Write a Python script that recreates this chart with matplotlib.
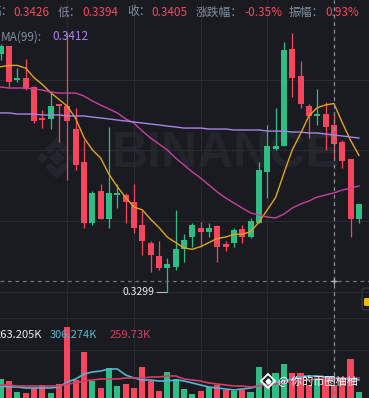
import numpy as np
import matplotlib
matplotlib.use('Agg')
import matplotlib.pyplot as plt
from matplotlib.patches import Polygon, FancyBboxPatch

plt.rcParams['font.family'] = ['Noto Sans CJK SC', 'DejaVu Sans']

# candles (price)
opens = [0.3473, 0.3479, 0.3454, 0.3456, 0.3449, 0.3426, 0.3426, 0.3437, 0.3435, 0.3418,
         0.3394, 0.3349, 0.3373, 0.3352, 0.3370, 0.3370, 0.3365, 0.3348, 0.3335, 0.3325,
         0.3316, 0.3317, 0.3330, 0.3339, 0.3346, 0.3343, 0.3347, 0.3334, 0.3335, 0.3345,
         0.3339, 0.3349, 0.3387, 0.3404, 0.3406, 0.3477, 0.3457, 0.3435, 0.3428, 0.3429,
         0.3421, 0.3409, 0.3396, 0.3352]
highs = [0.3481, 0.3479, 0.3463, 0.3470, 0.3450, 0.3432, 0.3446, 0.3437, 0.3489, 0.3434,
         0.3410, 0.3373, 0.3378, 0.3420, 0.3378, 0.3371, 0.3378, 0.3359, 0.3336, 0.3336,
         0.3324, 0.3359, 0.3341, 0.3349, 0.3350, 0.3349, 0.3348, 0.3336, 0.3346, 0.3348,
         0.3353, 0.3394, 0.3421, 0.3434, 0.3482, 0.3489, 0.3468, 0.3437, 0.3448, 0.3438,
         0.3429, 0.3410, 0.3396, 0.3363]
lows = [0.3469, 0.3449, 0.3453, 0.3447, 0.3423, 0.3419, 0.3418, 0.3409, 0.3381, 0.3388,
        0.3346, 0.3348, 0.3352, 0.3346, 0.3360, 0.3349, 0.3342, 0.3326, 0.3313, 0.3315,
        0.3299, 0.3315, 0.3321, 0.3332, 0.3332, 0.3339, 0.3321, 0.3329, 0.3332, 0.3335,
        0.3338, 0.3349, 0.3368, 0.3403, 0.3406, 0.3442, 0.3434, 0.3412, 0.3421, 0.3403,
        0.3396, 0.3390, 0.3339, 0.3349]
closes = [0.3479, 0.3453, 0.3456, 0.3448, 0.3424, 0.3425, 0.3435, 0.3435, 0.3424, 0.3392,
          0.3349, 0.3371, 0.3352, 0.3371, 0.3371, 0.3365, 0.3346, 0.3336, 0.3326, 0.3316,
          0.3319, 0.3330, 0.3337, 0.3348, 0.3343, 0.3346, 0.3332, 0.3332, 0.3344, 0.3339,
          0.3351, 0.3388, 0.3406, 0.3406, 0.3476, 0.3456, 0.3437, 0.3428, 0.3429, 0.3420,
          0.3407, 0.3395, 0.3352, 0.3363]

# moving averages as drawn
ma7 = [0.3464, 0.3465, 0.3465, 0.3463, 0.3456, 0.3451, 0.3445, 0.3440, 0.3435, 0.3426,
       0.3412, 0.3403, 0.3397, 0.3385, 0.3376, 0.3368, 0.3361, 0.3359, 0.3352, 0.3346,
       0.3339, 0.3335, 0.3331, 0.3330, 0.3332, 0.3335, 0.3338, 0.3339, 0.3341, 0.3341,
       0.3343, 0.3350, 0.3359, 0.3368, 0.3386, 0.3403, 0.3415, 0.3428, 0.3434, 0.3436,
       0.3437, 0.3423, 0.3410, 0.3399]
ma25 = [0.34491, 0.34484, 0.34484, 0.34484, 0.34477, 0.34469, 0.34455, 0.34447, 0.34447, 0.34447,
        0.34425, 0.34389, 0.34359, 0.34330, 0.34301, 0.34257, 0.34227, 0.34168, 0.34117, 0.34073,
        0.34029, 0.33970, 0.33919, 0.33868, 0.33823, 0.33772, 0.33721, 0.33677, 0.33640, 0.33603,
        0.33567, 0.33552, 0.33537, 0.33530, 0.33559, 0.33603, 0.33633, 0.33655, 0.33684, 0.33699,
        0.33714, 0.33735, 0.33750, 0.33765]
ma99 = [0.34301, 0.34301, 0.34293, 0.34293, 0.34293, 0.34286, 0.34286, 0.34286, 0.34279, 0.34279,
        0.34279, 0.34271, 0.34264, 0.34257, 0.34249, 0.34242, 0.34235, 0.34227, 0.34220, 0.34213,
        0.34205, 0.34198, 0.34190, 0.34190, 0.34190, 0.34183, 0.34183, 0.34183, 0.34176, 0.34176,
        0.34176, 0.34176, 0.34168, 0.34168, 0.34168, 0.34161, 0.34161, 0.34154, 0.34154, 0.34146,
        0.34139, 0.34132, 0.34124, 0.34117]

# volume in K
volumes = [294, 266, 112, 98, 168, 210, 98, 224, 1022, 280,
           672, 266, 168, 448, 196, 224, 168, 462, 266, 126,
           392, 294, 154, 84, 126, 182, 210, 140, 126, 140,
           112, 462, 224, 378, 504, 378, 378, 210, 308, 322,
           210, 322, 574, 112]
vol_ma5 = [196, 182, 182, 168, 168, 168, 168, 182, 252, 294,
           364, 392, 406, 434, 434, 350, 308, 280, 280, 266,
           266, 280, 266, 238, 210, 182, 168, 154, 140, 154,
           168, 196, 224, 238, 266, 294, 322, 336, 336, 322,
           308, 294, 294, 280]
vol_ma10 = [210, 210, 196, 196, 196, 196, 196, 196, 224, 238,
            266, 280, 294, 294, 294, 308, 308, 308, 322, 322,
            336, 336, 294, 280, 266, 238, 224, 210, 196, 196,
            182, 196, 210, 224, 238, 266, 280, 280, 294, 294,
            294, 308, 308, 308]

header = [('高：', '0.3426'), ('低：', '0.3394'), ('收：', '0.3405'),
          ('涨跌幅：', '-0.35%'), ('振幅：', '0.93%')]
ma_label = ('MA(99):', '0.3412')
vol_labels = ['263.205K', '306.274K', '259.73K']
hover_idx = 40
cross_price = 0.3307
low_idx = 20

BG = '#1a1b21'
GRID = '#262a31'
GREEN = '#2ebd85'
RED = '#f6465d'
GRAY = '#848e9c'

W, H = 369, 398
split = 318

fig = plt.figure(figsize=(W / 100, H / 100), dpi=100)
fig.patch.set_facecolor(BG)

ax_bg = fig.add_axes([0, 0, 1, 1], zorder=0)
ax_bg.set_xlim(0, W)
ax_bg.set_ylim(H, 0)
ax_bg.axis('off')

ax = fig.add_axes([0, 1 - split / H, 1, split / H], zorder=1)
axv = fig.add_axes([0, 0, 1, (H - split) / H], zorder=1)
ax_top = fig.add_axes([0, 0, 1, 1], zorder=3)
ax_top.set_xlim(0, W)
ax_top.set_ylim(H, 0)
ax_top.axis('off')

# watermark behind the candles
wm = '#23252c'
ax_bg.text(112, 154, 'BINANCE', fontsize=36, fontweight='bold', family='Liberation Sans',
           color=wm, va='center', ha='left')
cx, cy = 57, 158
for dx, dy, r in [(0, 0, 7), (-15, 0, 4.5), (15, 0, 4.5)]:
    ax_bg.add_patch(Polygon([(cx + dx - r, cy + dy), (cx + dx, cy + dy - r),
                             (cx + dx + r, cy + dy), (cx + dx, cy + dy + r)], color=wm))
for s in (-1, 1):
    ax_bg.add_patch(Polygon([(cx - 11, cy + s * 9), (cx, cy + s * 20), (cx + 11, cy + s * 9),
                             (cx + 7, cy + s * 5), (cx, cy + s * 12), (cx - 7, cy + s * 5)], color=wm))

x = np.arange(len(opens))
o = np.array(opens)
c = np.array(closes)
up = c >= o
colors = np.where(up, GREEN, RED)

for a in (ax, axv):
    a.patch.set_alpha(0)
    a.set_xlim(-0.084, 44.21)
    a.set_xticks([8, 16, 24, 32, 40])
    a.tick_params(length=0, labelbottom=False, labelleft=False)
    a.grid(color=GRID, lw=0.8)
    a.set_axisbelow(True)
    for sp in a.spines.values():
        sp.set_visible(False)

ax.set_ylim(0.32796, 0.3513)
ax.set_yticks([0.3454, 0.3403, 0.3351, 0.3299])
ax.vlines(x, lows, highs, colors=colors, lw=0.9, zorder=2)
ax.bar(x, np.maximum(np.abs(c - o), 0.00014), bottom=np.minimum(o, c), width=0.72,
       color=colors, lw=0, zorder=3)
ax.plot(x, ma7, color='#e2a514', lw=1.0, zorder=4)
ax.plot(x, ma25, color='#c93f9f', lw=1.0, zorder=4)
ax.plot(x, ma99, color='#a584e6', lw=1.0, zorder=4)

# lowest price marker
ax.hlines(lows[low_idx], low_idx - 1.35, low_idx - 0.05, color='#b7bdc6', lw=0.8)
ax.text(low_idx - 1.55, lows[low_idx], f'{lows[low_idx]:.4f}', color='#eaecef',
        fontsize=7.5, ha='right', va='center')

axv.set_ylim(28, 1148)
axv.set_yticks([700])
axv.spines['top'].set_visible(True)
axv.spines['top'].set_color(GRID)
axv.bar(x, volumes, width=0.75, color=colors, lw=0, zorder=2)
axv.plot(x, vol_ma5, color='#4fb8d4', lw=1.2, zorder=3)
axv.plot(x, vol_ma10, color='#d43d66', lw=1.2, zorder=3)

# crosshair
for a in (ax, axv):
    a.axvline(hover_idx, color='#8d9098', lw=0.9, ls=(0, (3, 3)), zorder=5)
ax.axhline(cross_price, color='#6f737b', lw=0.9, ls=(0, (3, 3)), zorder=5)
ax.plot(hover_idx, cross_price, marker='+', color='#b0b4ba', ms=5, mew=1, zorder=6)

# header texts
label_x = [-11, 58, 127, 196, 289]
value_x = [13, 82, 151, 244, 325]
for (lab, val), lx, vx in zip(header, label_x, value_x):
    ax_top.text(lx, 12, lab, color=GRAY, fontsize=8.5, va='center', ha='left')
    ax_top.text(vx, 12, val, color=RED, fontsize=8.5, va='center', ha='left')
ax_top.text(1, 37, ma_label[0], color=GRAY, fontsize=8.5, va='center', ha='left')
ax_top.text(52, 37, ma_label[1], color='#a584e6', fontsize=8.5, va='center', ha='left')

ax_top.text(42, 335, vol_labels[0], color='#eaecef', fontsize=8, va='center', ha='right')
ax_top.text(50, 335, vol_labels[1], color='#4fb8d4', fontsize=8, va='center', ha='left')
ax_top.text(110, 335, vol_labels[2], color='#d43d66', fontsize=8, va='center', ha='left')

# price tag stub on the right edge
ax_top.add_patch(FancyBboxPatch((362, 288), 14, 22, boxstyle='round,pad=0,rounding_size=3',
                                fc='none', ec='#3a3e46', lw=0.8))
ax_top.add_patch(FancyBboxPatch((364, 298), 8, 8, boxstyle='round,pad=0,rounding_size=1.5',
                                fc='#f0b90b', ec='none'))

# author watermark
ax_top.plot(268, 381, marker='D', ms=7, mfc='none', mec='white', mew=1.3)
ax_top.plot(268, 381, marker='D', ms=2.5, color='white')
ax_top.text(278, 381, '@ 你的币圈柚柚', color='white', fontsize=8, va='center', ha='left')

fig.savefig('out.png', dpi=100, facecolor=BG)
